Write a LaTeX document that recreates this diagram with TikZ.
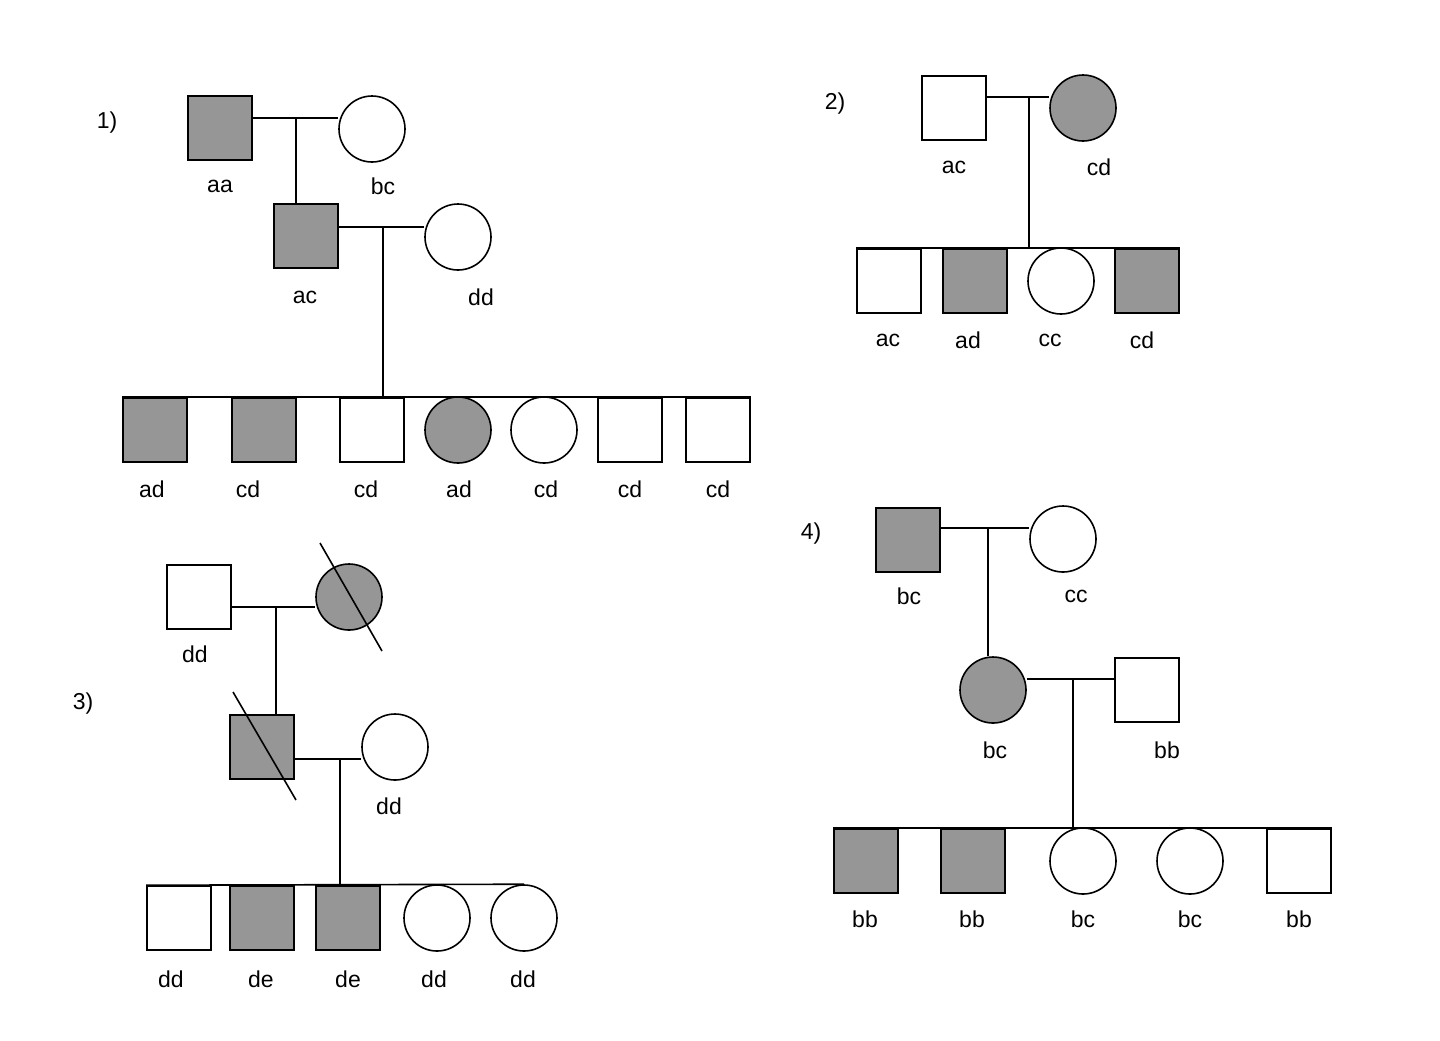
\documentclass[tikz,border=0pt]{standalone}
\usepackage{fontspec}
\setmainfont{Liberation Sans}
\begin{document}
\begin{tikzpicture}[x=0.5pt,y=-0.5pt,line width=0.8pt,
  male/.style={draw,rectangle,minimum size=32pt,inner sep=0pt},
  fem/.style={draw,circle,minimum size=33pt,inner sep=0pt},
  aff/.style={fill=black!41},
  lab/.style={font=\fontsize{11.5}{13}\selectfont,inner sep=0pt},
  slash/.style={line width=0.8pt}]
\useasboundingbox (0,0) rectangle (1440,1040);
% ---------- 1
\node[lab] (n1) at (107,123) {1)};
\node[male,aff] (a1) at (220,128) {};
\node[fem] (a2) at (372,129) {};
\coordinate (m1) at (296,118);
\draw (a1.east|-m1) -- (a2.west|-m1);
\node[male,aff] (b1) at (306,236) {};
\node[fem] (b2) at (458,237) {};
\draw (m1) -- (m1|-b1.north);
\coordinate (m2) at (383,227);
\draw (b1.east|-m2) -- (b2.west|-m2);
\node[male,aff] (c1) at (155,430) {};
\node[male,aff] (c2) at (264,430) {};
\node[male] (c3) at (372,430) {};
\node[fem,aff] (c4) at (458,430) {};
\node[fem] (c5) at (544,430) {};
\node[male] (c6) at (630,430) {};
\node[male] (c7) at (718,430) {};
\coordinate (s1) at (383,398);
\draw (m2) -- (s1);
\draw (c1.north west) -- (c7.north east);
\node[lab] at (220,186) {aa};
\node[lab] at (383,186) {bc};
\node[lab] at (305,297) {ac};
\node[lab] at (481,297) {dd};
\foreach \x/\t in {152/ad,248/cd,366/cd,459/ad,546/cd,630/cd,718/cd}
  \node[lab] at (\x,489) {\t};
% ---------- 2
\node[lab] (n2) at (835,104) {2)};
\node[male] (d1) at (954,108) {};
\node[fem,aff] (d2) at (1083,108) {};
\coordinate (m3) at (1029,97);
\draw (d1.east|-m3) -- (d2.west|-m3);
\node[male] (e1) at (889,281) {};
\node[male,aff] (e2) at (975,281) {};
\node[fem] (e3) at (1061,281) {};
\node[male,aff] (e4) at (1147,281) {};
\draw (m3) -- (m3|-e1.north);
\draw (e1.north west) -- (e4.north east);
\node[lab] at (954,167) {ac};
\node[lab] at (1099,167) {cd};
\foreach \x/\t in {888/ac,968/ad,1050/cc,1142/cd}
  \node[lab] at (\x,340) {\t};
% ---------- 3
\node[lab] (n3) at (83,704) {3)};
\node[male] (f1) at (199,597) {};
\node[fem,aff] (f2) at (349,597) {};
\draw[slash] (320,543) -- (382,651);
\coordinate (m4) at (276,607);
\draw (f1.east|-m4) -- (f2.west|-m4);
\node[male,aff] (g1) at (262,747) {};
\node[fem] (g2) at (395,747) {};
\draw[slash] (233,692) -- (296,800);
\draw (m4) -- (m4|-g1.north);
\coordinate (m5) at (340,759);
\draw (g1.east|-m5) -- (g2.west|-m5);
\node[male] (h1) at (179,918) {};
\node[male,aff] (h2) at (262,918) {};
\node[male,aff] (h3) at (348,918) {};
\node[fem] (h4) at (437,918) {};
\node[fem] (h5) at (524,918) {};
\draw (m5) -- (m5|-h1.north);
\draw (h1.north west) -- (h5.north);
\node[lab] at (195,654) {dd};
\node[lab] at (389,806) {dd};
\foreach \x/\t in {171/dd,261/de,348/de,434/dd,523/dd}
  \node[lab] at (\x,979) {\t};
% ---------- 4
\node[lab] (n4) at (811,534) {4)};
\node[male,aff] (i1) at (908,540) {};
\node[fem] (i2) at (1063,539) {};
\coordinate (m6) at (988,528);
\draw (i1.east|-m6) -- (i2.west|-m6);
\node[fem,aff] (j1) at (993,690) {};
\node[male] (j2) at (1147,690) {};
\draw (m6) -- (m6|-j1.north);
\coordinate (m7) at (1073,679);
\draw (j1.east|-m7) -- (j2.west|-m7);
\node[male,aff] (k1) at (866,861) {};
\node[male,aff] (k2) at (973,861) {};
\node[fem] (k3) at (1083,861) {};
\node[fem] (k4) at (1190,861) {};
\node[male] (k5) at (1299,861) {};
\draw (m7) -- (m7|-k1.north);
\draw (k1.north west) -- (k5.north east);
\node[lab] at (909,596) {bc};
\node[lab] at (1076,596) {cc};
\node[lab] at (995,750) {bc};
\node[lab] at (1167,750) {bb};
\foreach \x/\t in {865/bb,972/bb,1083/bc,1190/bc,1299/bb}
  \node[lab] at (\x,919) {\t};
\end{tikzpicture}
\end{document}
